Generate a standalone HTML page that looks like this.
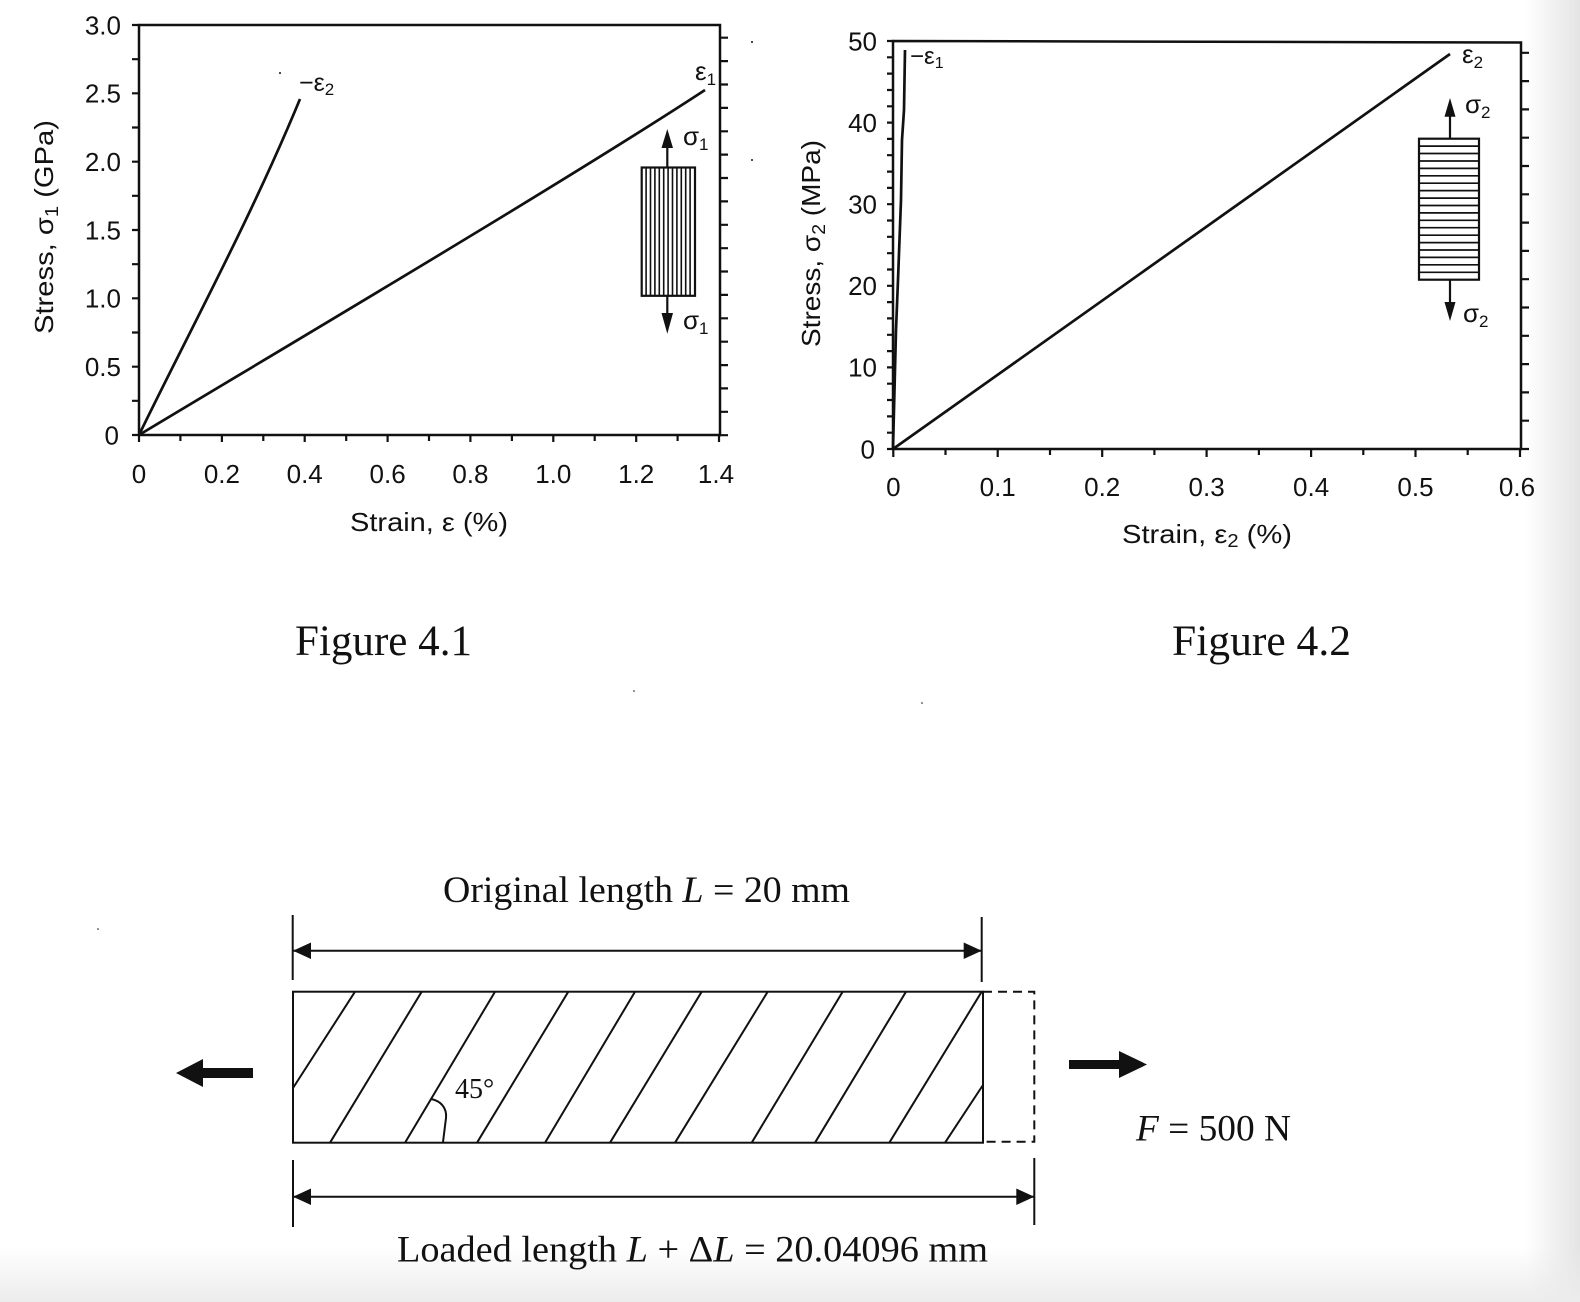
<!DOCTYPE html>
<html>
<head>
<meta charset="utf-8">
<style>
  html,body{margin:0;padding:0;background:#fff;}
  body{width:1580px;height:1302px;position:relative;overflow:hidden;}
  .gr{position:absolute;top:0;right:0;width:55px;height:1302px;background:linear-gradient(to right,rgba(230,230,230,0),rgba(228,228,228,1));z-index:0;}
  .gb{position:absolute;left:0;bottom:0;width:1580px;height:55px;background:linear-gradient(to bottom,rgba(236,236,236,0),rgba(236,236,236,1));z-index:0;}
  svg{position:absolute;left:0;top:0;z-index:1;}
  .sans{font-family:"Liberation Sans",Arial,sans-serif;fill:#111;}
  .serif{font-family:"Liberation Serif","Times New Roman",serif;fill:#111;}
</style>
</head>
<body>
<div class="gr"></div>
<div class="gb"></div>
<svg width="1580" height="1302" viewBox="0 0 1580 1302" xmlns="http://www.w3.org/2000/svg">
<g stroke="#111" fill="none" stroke-width="2.5" stroke-linecap="butt">
  <!-- ================= Figure 4.1 ================= -->
  <path d="M139,25 L720,25 L720,435 L139,435 Z"/>
  <path stroke-width="2.2" d="M132,435H139 M132,400.8H139 M132,366.7H139 M132,332.5H139 M132,298.3H139 M132,264.2H139 M132,230H139 M132,195.8H139 M132,161.7H139 M132,127.5H139 M132,93.3H139 M132,59.2H139 M132,25H139"/>
  <path stroke-width="2.2" d="M139,435V442 M180.4,435V441 M221.9,435V442 M263.3,435V441 M304.7,435V442 M346.2,435V441 M387.6,435V442 M429,435V441 M470.4,435V442 M511.9,435V441 M553.3,435V442 M594.7,435V441 M636.2,435V442 M677.6,435V441 M719,435V442"/>
  <path stroke-width="2.2" d="M720,435.2H728 M720,411.8H728 M720,388.4H728 M720,365.1H728 M720,341.7H728 M720,318.3H728 M720,294.9H728 M720,271.5H728 M720,248.2H728 M720,224.8H728 M720,201.4H728 M720,178H728 M720,154.6H728 M720,131.3H728 M720,107.9H728 M720,84.5H728 M720,61.1H728 M720,37.7H728"/>
  <path stroke-width="2.7" d="M139,435 C190,330 250,220 300,99"/>
  <path stroke-width="2.7" d="M139,435 C250,368 560,185 705,90"/>
  <rect x="641.7" y="167.5" width="53.3" height="128.3" stroke-width="2.2"/>
  <path stroke-width="1.6" d="M646.1,167.5V295.8 M650.5,167.5V295.8 M654.9,167.5V295.8 M659.3,167.5V295.8 M663.7,167.5V295.8 M668.1,167.5V295.8 M672.5,167.5V295.8 M676.9,167.5V295.8 M681.3,167.5V295.8 M685.7,167.5V295.8 M690.1,167.5V295.8"/>
  <path stroke-width="2.2" d="M667.3,167.5V145 M667.3,295.8V316"/>

  <!-- ================= Figure 4.2 ================= -->
  <path d="M893,41 L1521,42.5 L1521,449 L893,449 Z"/>
  <path stroke-width="2.2" d="M887,449H893 M887,432.7H893 M887,416.4H893 M887,400H893 M887,383.7H893 M887,367.4H893 M887,351.1H893 M887,334.8H893 M887,318.4H893 M887,302.1H893 M887,285.8H893 M887,269.5H893 M887,253.2H893 M887,236.8H893 M887,220.5H893 M887,204.2H893 M887,187.9H893 M887,171.6H893 M887,155.2H893 M887,138.9H893 M887,122.6H893 M887,106.3H893 M887,90H893 M887,73.6H893 M887,57.3H893 M887,41H893"/>
  <path stroke-width="2.2" d="M893.3,449V457 M945.5,449V455 M997.7,449V457 M1050,449V455 M1102.2,449V457 M1154.4,449V455 M1206.6,449V457 M1258.9,449V455 M1311.1,449V457 M1363.3,449V455 M1415.5,449V457 M1467.7,449V455 M1520,449V457"/>
  <path stroke-width="2.2" d="M1521,449H1529 M1521,420.7H1529 M1521,392.4H1529 M1521,364.1H1529 M1521,335.8H1529 M1521,307.5H1529 M1521,279.2H1529 M1521,250.9H1529 M1521,222.6H1529 M1521,194.3H1529 M1521,166H1529 M1521,137.7H1529 M1521,109.4H1529 M1521,81.1H1529 M1521,52.8H1529"/>
  <polyline stroke-width="2.7" points="893,449 896,330 898,280 901,200 902,140 904,110 905,50"/>
  <path stroke-width="2.7" d="M893,449 L1450,54"/>
  <rect x="1419" y="138.7" width="60" height="141" stroke-width="2.2"/>
  <path stroke-width="1.7" d="M1419,146.1H1479 M1419,153.5H1479 M1419,161H1479 M1419,168.4H1479 M1419,175.8H1479 M1419,183.2H1479 M1419,190.6H1479 M1419,198.1H1479 M1419,205.5H1479 M1419,212.9H1479 M1419,220.3H1479 M1419,227.7H1479 M1419,235.2H1479 M1419,242.6H1479 M1419,250H1479 M1419,257.4H1479 M1419,264.8H1479 M1419,272.3H1479"/>
  <path stroke-width="2.2" d="M1450,138.7V114 M1450,279.7V304"/>

  <!-- ================= Bottom diagram ================= -->
  <g stroke-width="2">
  <path d="M292.7,915V980 M981.7,917V982 M293,950.7H981"/>
  <path d="M293,1160V1227 M1034.3,1158V1225 M293,1196.7H1034"/>
  <rect x="293" y="991.7" width="690" height="151"/>
  <path stroke-dasharray="9 6" d="M983,991.7H1034.3V1141.7H983"/>
  <path d="M355,991.7L293,1088 M421.7,991.7L330,1142.7 M495,991.7L405,1142.7 M568.3,991.7L477,1142.7 M635,991.7L545,1142.7 M701.7,991.7L610,1142.7 M767.7,991.7L675,1142.7 M842.7,991.7L751.7,1142.7 M906,991.7L815,1142.7 M981.7,991.7L889.3,1142.7 M945,1142.7L983,1085"/>
  <path d="M431,1099 C441,1101 447,1108 446,1118 L443,1142"/>
  </g>
</g>

<g fill="#111" stroke="none">
  <polygon points="667.3,129 661.5,148 673,148"/>
  <polygon points="667.3,333.7 661.5,313 673,313"/>
  <polygon points="1450,98 1444.5,116.7 1455.5,116.7"/>
  <polygon points="1450,321 1444.5,302 1455.5,302"/>
  <polygon points="293,950.7 311,942.5 311,959"/>
  <polygon points="981.7,950.7 963.7,942.5 963.7,959"/>
  <polygon points="293,1196.7 311,1188.5 311,1205"/>
  <polygon points="1034.3,1196.7 1016.3,1188.5 1016.3,1205"/>
  <polygon points="176,1073 203,1059 203,1068 253,1068 253,1078 203,1078 203,1087"/>
  <polygon points="1147,1064.5 1119,1051 1119,1060 1069,1060 1069,1069 1119,1069 1119,1078"/>
  <circle cx="280" cy="73" r="1"/>
  <circle cx="752" cy="42" r="1"/>
  <circle cx="752" cy="160" r="1"/>
  <circle cx="634" cy="691" r="0.8"/>
  <circle cx="922" cy="703" r="0.8"/>
  <circle cx="98" cy="929" r="0.8"/>
</g>

<g class="sans" font-size="26">
  <g text-anchor="end">
    <text x="121" y="34.3">3.0</text>
    <text x="121" y="102.6">2.5</text>
    <text x="121" y="171">2.0</text>
    <text x="121" y="239.3">1.5</text>
    <text x="121" y="307.6">1.0</text>
    <text x="121" y="376">0.5</text>
    <text x="119" y="444.3">0</text>
  </g>
  <g text-anchor="middle">
    <text x="139" y="483">0</text>
    <text x="221.9" y="483">0.2</text>
    <text x="304.7" y="483">0.4</text>
    <text x="387.6" y="483">0.6</text>
    <text x="470.4" y="483">0.8</text>
    <text x="553.3" y="483">1.0</text>
    <text x="636.2" y="483">1.2</text>
    <text x="716" y="483">1.4</text>
  </g>
  <text x="350" y="531" textLength="158" lengthAdjust="spacingAndGlyphs">Strain, ε (%)</text>
  <text transform="translate(53,334) rotate(-90)" x="0" y="0" textLength="214" lengthAdjust="spacingAndGlyphs">Stress, σ<tspan font-size="18" dy="5">1</tspan><tspan dy="-5"> (GPa)</tspan></text>
  <text x="299" y="91" font-size="25">−ε<tspan font-size="17" dy="4">2</tspan></text>
  <text x="695" y="80">ε<tspan font-size="17" dy="5">1</tspan></text>
  <text x="683" y="145">σ<tspan font-size="17" dy="5">1</tspan></text>
  <text x="683" y="329">σ<tspan font-size="17" dy="5">1</tspan></text>
</g>

<g class="sans" font-size="26">
  <g text-anchor="end">
    <text x="877" y="50.3">50</text>
    <text x="877" y="131.9">40</text>
    <text x="877" y="213.5">30</text>
    <text x="877" y="295.1">20</text>
    <text x="877" y="376.7">10</text>
    <text x="875" y="458.3">0</text>
  </g>
  <g text-anchor="middle">
    <text x="893.3" y="496">0</text>
    <text x="997.7" y="496">0.1</text>
    <text x="1102.2" y="496">0.2</text>
    <text x="1206.6" y="496">0.3</text>
    <text x="1311.1" y="496">0.4</text>
    <text x="1415.5" y="496">0.5</text>
    <text x="1517" y="496">0.6</text>
  </g>
  <text x="1122" y="543" textLength="170" lengthAdjust="spacingAndGlyphs">Strain, ε<tspan font-size="18" dy="4">2</tspan><tspan dy="-4"> (%)</tspan></text>
  <text transform="translate(820,347) rotate(-90)" x="0" y="0" textLength="207" lengthAdjust="spacingAndGlyphs">Stress, σ<tspan font-size="18" dy="5">2</tspan><tspan dy="-5"> (MPa)</tspan></text>
  <text x="910" y="64" font-size="24">−ε<tspan font-size="16" dy="4">1</tspan></text>
  <text x="1462" y="63">ε<tspan font-size="17" dy="5">2</tspan></text>
  <text x="1465" y="113">σ<tspan font-size="17" dy="5">2</tspan></text>
  <text x="1463" y="322">σ<tspan font-size="17" dy="5">2</tspan></text>
</g>

<g class="serif">
  <text x="295" y="655" font-size="43" textLength="177" lengthAdjust="spacingAndGlyphs">Figure 4.1</text>
  <text x="1172" y="655" font-size="43" textLength="179" lengthAdjust="spacingAndGlyphs">Figure 4.2</text>
  <text x="443" y="902" font-size="37" textLength="407" lengthAdjust="spacingAndGlyphs">Original length <tspan font-style="italic">L</tspan> = 20 mm</text>
  <text x="397" y="1261.7" font-size="37" textLength="591" lengthAdjust="spacingAndGlyphs">Loaded length <tspan font-style="italic">L</tspan> + Δ<tspan font-style="italic">L</tspan> = 20.04096 mm</text>
  <text x="1136" y="1140.5" font-size="37" textLength="155" lengthAdjust="spacingAndGlyphs"><tspan font-style="italic">F</tspan> = 500 N</text>
  <text x="455" y="1098" font-size="28">45°</text>
</g>
</svg>
</body>
</html>
